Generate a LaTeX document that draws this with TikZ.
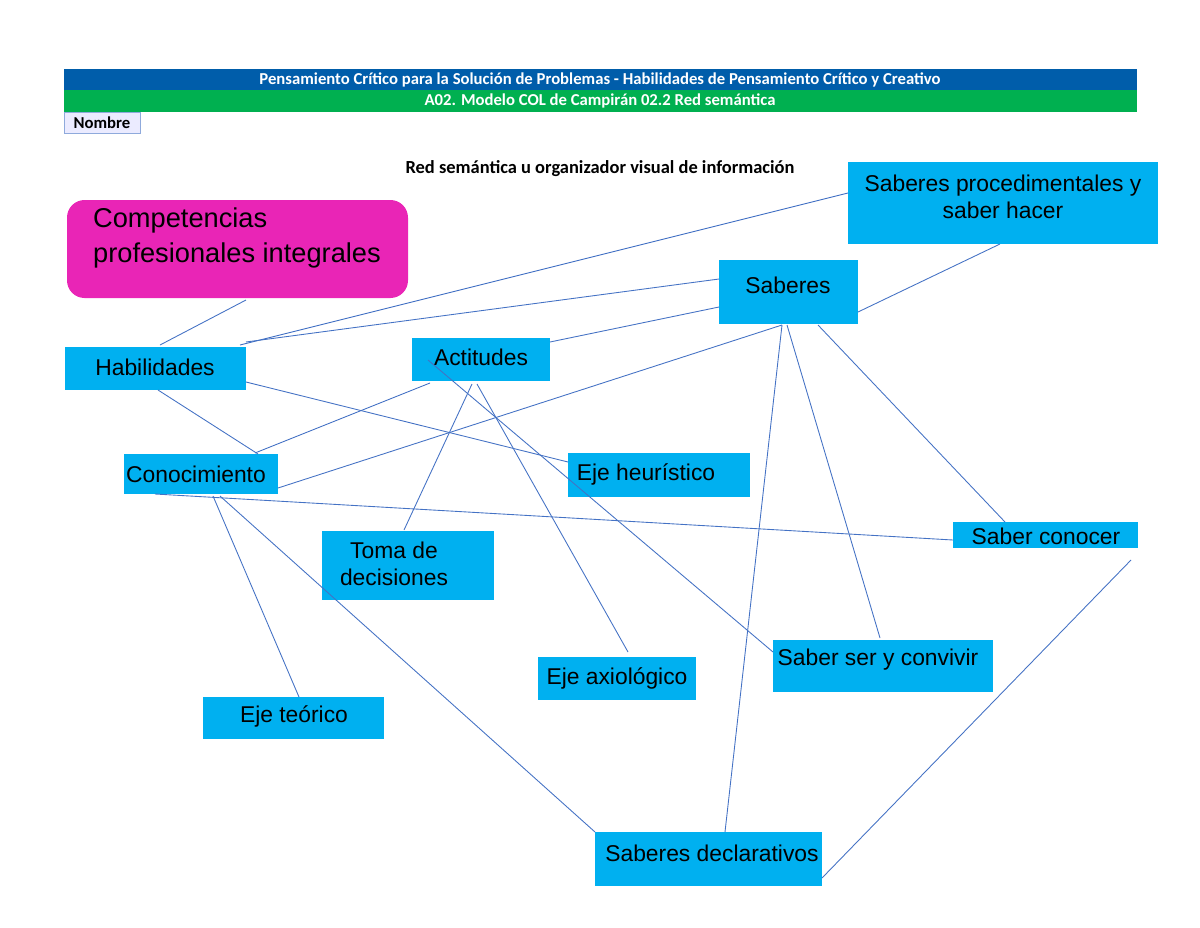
\documentclass[tikz,border=0pt]{standalone}
\usepackage{fontspec}
\setmainfont{Liberation Sans}
\newfontfamily\calib{Carlito}
\begin{document}
\begin{tikzpicture}[x=0.02cm,y=-0.02cm,
 bx/.style={draw=white,fill=cyan!70!blue!60,fill=boxc,line width=0.5pt},
 lk/.style={draw=linec,line width=0.5pt},
 lbl/.style={font=\fontsize{13}{15.5}\selectfont,align=center}]
\definecolor{boxc}{HTML}{00B0F0}
\definecolor{linec}{HTML}{4472C4}
\definecolor{hblue}{HTML}{005DAA}
\definecolor{hgreen}{HTML}{00B050}
\definecolor{mag}{HTML}{E925B6}
\useasboundingbox (0,0) rectangle (1200,927);
% header
\fill[hblue] (64,69) rectangle (1137,90);
\fill[hgreen] (64,90) rectangle (1137,112);
\node[font=\calib\bfseries\fontsize{9.5}{11}\selectfont,text=white] (h1) at (600,80) {Pensamiento Crítico para la Solución de Problemas - Habilidades de Pensamiento Crítico y Creativo};
\node[font=\calib\bfseries\fontsize{9.5}{11}\selectfont,text=white] (h2) at (600,101) {A02. Modelo COL de Campirán 02.2 Red semántica};
\draw[fill=blue!8,draw=linec!60] (64,112) rectangle (140,133);
\node[font=\calib\bfseries\fontsize{9.5}{11}\selectfont] (nom) at (102,123) {Nombre};
\node[font=\calib\bfseries\fontsize{10.5}{12}\selectfont] (tit) at (600,169) {Red semántica u organizador visual de información};
% boxes
\fill[mag,rounded corners=10pt] (67,200) rectangle (408,298);
\node[font=\fontsize{15.5}{20}\selectfont,align=left,text=black] (comp) at (237,238) {Competencias\\profesionales integrales};
\fill[boxc] (848,162) rectangle (1158,244); \node[lbl] (sp) at (1003,197) {Saberes procedimentales y\\saber hacer};
\fill[boxc] (719,260) rectangle (858,324); \node[lbl] (sab) at (788,285) {Saberes};
\fill[boxc] (65,347) rectangle (246,390); \node[lbl] (hab) at (155,367) {Habilidades};
\fill[boxc] (412,338) rectangle (550,381); \node[lbl] (act) at (481,357) {Actitudes};
\fill[boxc] (124,454) rectangle (278,494); \node[lbl] (con) at (196,474) {Conocimiento};
\fill[boxc] (568,453) rectangle (750,497); \node[lbl] (heu) at (646,474) {Eje heurístico};
\fill[boxc] (953,522) rectangle (1138,548); \node[lbl] (sc) at (1046,536) {Saber conocer};
\fill[boxc] (322,531) rectangle (494,600); \node[lbl] (toma) at (394,564) {Toma de\\decisiones};
\fill[boxc] (773,640) rectangle (993,692); \node[lbl] (ss) at (878,660) {Saber ser y convivir};
\fill[boxc] (538,657) rectangle (696,700); \node[lbl] (axi) at (617,678) {Eje axiológico};
\fill[boxc] (203,697) rectangle (384,739); \node[lbl] (teo) at (294,716) {Eje teórico};
\fill[boxc] (595,832) rectangle (822,886); \node[lbl] (dec) at (712,853) {Saberes declarativos};
% endpoints
\coordinate (c1) at (246,300); \coordinate (c2) at (160,345);
\coordinate (c3) at (1131,560); \coordinate (c4) at (822,878);
% links
\draw[lk] (c1) -- (c2);
\draw[lk] (240,345) -- (848,193);
\draw[lk] (246,342) -- (719,279);
\draw[lk] (246,382) -- (568,462);
\draw[lk] (158,390) -- (258,454);
\draw[lk] (550,342) -- (719,307);
\draw[lk] (255,453) -- (430,383);
\draw[lk] (278,488) -- (782,325);
\draw[lk] (155,494) -- (953,540);
\draw[lk] (213,496) -- (299,697);
\draw[lk] (220,496) -- (595,832);
\draw[lk] (472,384) -- (404,530);
\draw[lk] (477,384) -- (628,652);
\draw[lk] (428,360) -- (773,652);
\draw[lk] (782,325) -- (725,832);
\draw[lk] (787,325) -- (880,638);
\draw[lk] (818,325) -- (1005,522);
\draw[lk] (858,312) -- (1000,244);
\draw[lk] (c3) -- (c4);
\end{tikzpicture}
\end{document}
